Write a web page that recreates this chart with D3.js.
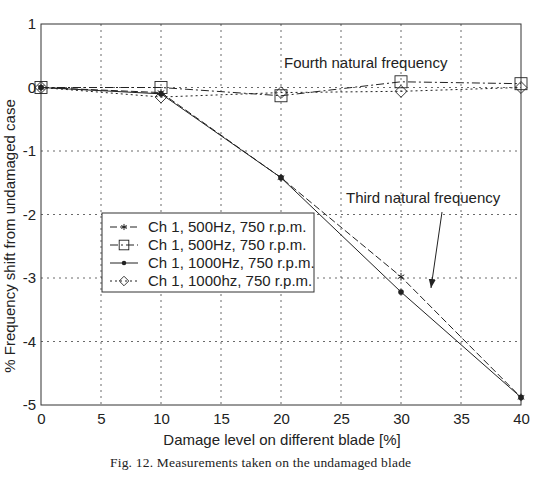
<!DOCTYPE html>
<html>
<head>
<meta charset="utf-8">
<script src="https://cdnjs.cloudflare.com/ajax/libs/d3/7.8.5/d3.min.js"></script>
<style>
  body { margin: 0; background: #fff; }
  text { font-family: "Liberation Sans", Arial, sans-serif; fill: #222; }
</style>
</head>
<body>
<div id="chart"></div>
<script>
// damage levels [%]
var damage = [0, 10, 20, 30, 40];

// third natural frequency
var star500 = [0, -0.08, -1.42, -2.98, -4.88];
var dot1000 = [0, -0.10, -1.42, -3.22, -4.88];
// fourth natural frequency
var square500 = [0, 0.0, -0.13, 0.09, 0.06];
var diamond1000 = [0, -0.15, -0.08, -0.06, 0.0];

var xTicks = [0, 5, 10, 15, 20, 25, 30, 35, 40];
var yTicks = [1, 0, -1, -2, -3, -4, -5];

var legendLabels = [
  "Ch 1, 500Hz, 750 r.p.m.",
  "Ch 1, 500Hz, 750 r.p.m.",
  "Ch 1, 1000Hz, 750 r.p.m.",
  "Ch 1, 1000hz, 750 r.p.m."
];

var series = [
  {vals: star500, sym: "star", dash: "7,3"},
  {vals: square500, sym: "square", dash: "8,3,2,3"},
  {vals: dot1000, sym: "dot", dash: null},
  {vals: diamond1000, sym: "diamond", dash: "2,3"}
];

var svg = d3.select("#chart").append("svg")
    .attr("width", 550)
    .attr("height", 480);

var x = d3.scaleLinear().domain([0, 40]).range([41, 521]);
var y = d3.scaleLinear().domain([-5, 1]).range([405, 24]);

// grid
svg.selectAll("line.vgrid")
    .data(xTicks.slice(1, -1))
    .enter().append("line")
    .attr("x1", function(d){ return x(d); })
    .attr("x2", function(d){ return x(d); })
    .attr("y1", y(1)).attr("y2", y(-5))
    .attr("stroke", "#444").attr("stroke-width", 0.8)
    .attr("stroke-dasharray", "2,4");

svg.selectAll("line.hgrid")
    .data(yTicks.slice(1, -1))
    .enter().append("line")
    .attr("y1", function(d){ return y(d); })
    .attr("y2", function(d){ return y(d); })
    .attr("x1", x(0)).attr("x2", x(40))
    .attr("stroke", "#444").attr("stroke-width", 0.8)
    .attr("stroke-dasharray", "2,4");

// frame
svg.append("rect")
    .attr("x", x(0)).attr("y", y(1))
    .attr("width", x(40) - x(0)).attr("height", y(-5) - y(1))
    .attr("fill", "none").attr("stroke", "#333").attr("stroke-width", 1);

// axes
var fmt = function(d){ return String(d); };
var xAxis = d3.axisBottom(x).tickValues(xTicks).tickFormat(fmt).tickSize(0).tickPadding(8);
var gx = svg.append("g").attr("transform", "translate(0," + y(-5) + ")").call(xAxis);
gx.select(".domain").remove();
gx.selectAll("text").style("font-size", "15px").attr("fill", "#222");

var yAxis = d3.axisLeft(y).tickValues(yTicks).tickFormat(fmt).tickSize(0).tickPadding(5);
var gy = svg.append("g").attr("transform", "translate(" + x(0) + ",0)").call(yAxis);
gy.select(".domain").remove();
gy.selectAll("text").style("font-size", "15px").attr("fill", "#222");

// lines
var line = d3.line()
    .x(function(d, i){ return x(damage[i]); })
    .y(function(d){ return y(d); });

series.forEach(function(s){
  svg.append("path")
      .datum(s.vals)
      .attr("d", line)
      .attr("fill", "none")
      .attr("stroke", "#222")
      .attr("stroke-width", 1)
      .attr("stroke-dasharray", s.dash);
});

function marker(g, sym, cx, cy, k){
  k = k || 1;
  if (sym == "star") {
    g.append("path").attr("d", d3.symbol(d3.symbolAsterisk, 40 * k * k)())
      .attr("transform", "translate(" + cx + "," + cy + ")")
      .attr("fill", "none").attr("stroke", "#222").attr("stroke-width", 1);
  } else if (sym == "square") {
    g.append("rect").attr("x", cx - 6 * k).attr("y", cy - 6 * k)
      .attr("width", 12 * k).attr("height", 12 * k)
      .attr("fill", "none").attr("stroke", "#222").attr("stroke-width", 0.9);
  } else if (sym == "dot") {
    g.append("circle").attr("cx", cx).attr("cy", cy).attr("r", 2.8 * k)
      .attr("fill", "#222");
  } else if (sym == "diamond") {
    g.append("path").attr("d", d3.symbol(d3.symbolDiamond2, 90 * k * k)())
      .attr("transform", "translate(" + cx + "," + cy + ")")
      .attr("fill", "none").attr("stroke", "#222").attr("stroke-width", 0.9);
  }
}

series.forEach(function(s){
  s.vals.forEach(function(v, i){
    marker(svg, s.sym, x(damage[i]), y(v));
  });
});

// annotations
svg.append("text").attr("x", 284).attr("y", 68)
    .style("font-size", "15px").text("Fourth natural frequency");
svg.append("text").attr("x", 346).attr("y", 203)
    .style("font-size", "15px").text("Third natural frequency");

svg.append("defs").append("marker")
    .attr("id", "arr").attr("viewBox", "0 0 10 10")
    .attr("refX", 10).attr("refY", 5)
    .attr("markerWidth", 9).attr("markerHeight", 9)
    .attr("orient", "auto")
    .append("path").attr("d", "M0,1L10,5L0,9Z").attr("fill", "#222");

svg.append("line")
    .attr("x1", 442).attr("y1", 212).attr("x2", 431).attr("y2", 288)
    .attr("stroke", "#222").attr("stroke-width", 1)
    .attr("marker-end", "url(#arr)");

// legend
var lg = svg.append("g").attr("transform", "translate(102,213)");
lg.append("rect").attr("width", 212).attr("height", 79)
    .attr("fill", "#fff").attr("stroke", "#333").attr("stroke-width", 1);

series.forEach(function(s, i){
  var ly = 14 + i * 18;
  lg.append("line").attr("x1", 8).attr("x2", 36)
      .attr("y1", ly).attr("y2", ly)
      .attr("stroke", "#222").attr("stroke-width", 1)
      .attr("stroke-dasharray", s.dash);
  marker(lg, s.sym, 22, ly, 0.8);
  lg.append("text").attr("x", 46).attr("y", ly + 5)
      .style("font-size", "15px").text(legendLabels[i]);
});

// axis titles
svg.append("text")
    .attr("x", 282).attr("y", 445)
    .attr("text-anchor", "middle")
    .style("font-size", "15px")
    .text("Damage level on different blade [%]");

svg.append("text")
    .attr("transform", "translate(15,236) rotate(-90)")
    .attr("text-anchor", "middle")
    .style("font-size", "15px")
    .text("% Frequency shift from undamaged case");

// caption
svg.append("text")
    .attr("x", 110).attr("y", 467)
    .style("font-family", "'Liberation Serif', 'DejaVu Serif', serif")
    .style("font-size", "13.5px")
    .style("letter-spacing", "0.2px")
    .text("Fig. 12.  Measurements taken on the undamaged blade");
</script>
</body>
</html>
